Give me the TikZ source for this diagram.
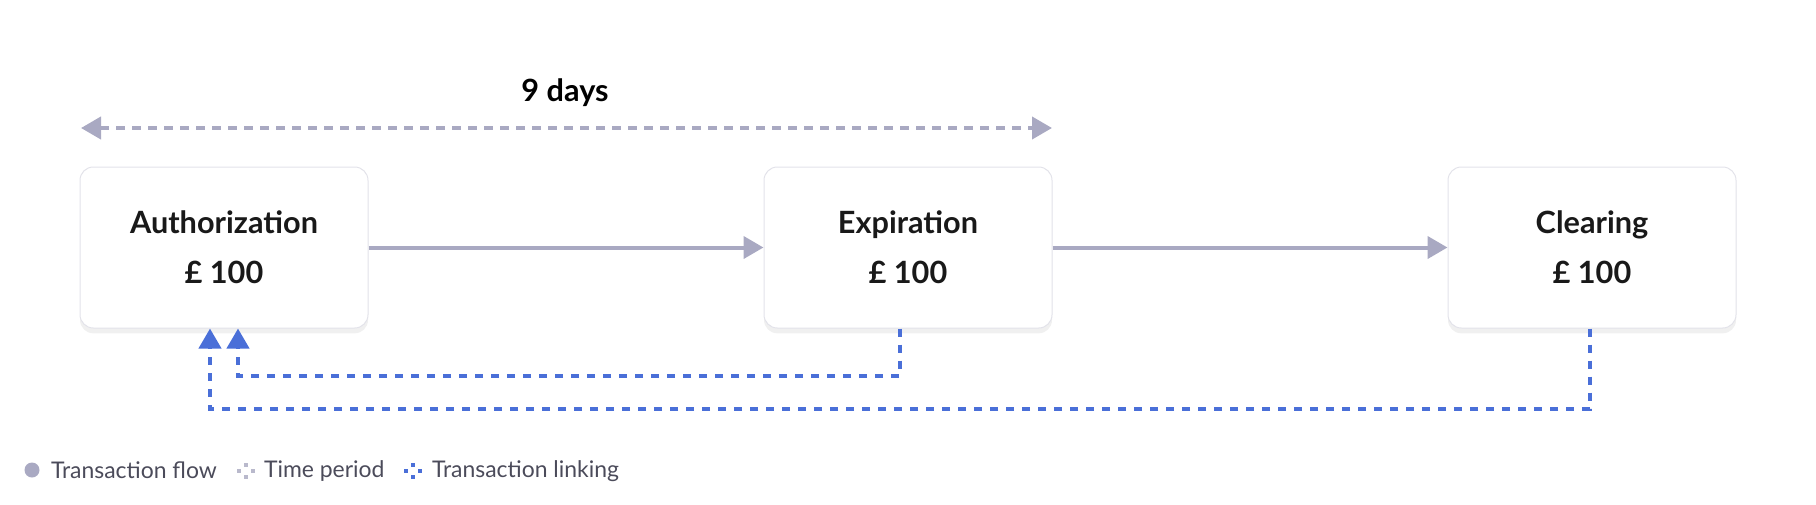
\documentclass[tikz,border=0pt]{standalone}
\usepackage{fontspec}
\setmainfont{Lato}
\usetikzlibrary{arrows.meta,shadows}
\definecolor{flowgray}{HTML}{A9A9C2}
\definecolor{periodgray}{HTML}{B9B9CC}
\definecolor{linkblue}{HTML}{4A6FD8}
\definecolor{boxline}{HTML}{E3E3EA}
\definecolor{legendtext}{HTML}{4B4B5A}

\begin{document}
\begin{tikzpicture}[
	>={Triangle[length=15pt,width=16.5pt]},
	line width=3pt,
	x=0.75pt,y=-0.75pt,
	font=\fontsize{23}{23}\selectfont\bfseries,
	stagebox/.style={draw=boxline, line width=0.75pt, fill=white,
		rounded corners=10pt, minimum width=216pt, minimum height=120.75pt,
		align=center, text=black!90,
		drop shadow={shadow xshift=0pt, shadow yshift=-4pt, opacity=0.06, fill=black}},
	flow/.style={->, flowgray},
	period/.style={<->, flowgray, dash pattern=on 6.75pt off 5.25pt},
	link/.style={->, linkblue, dash pattern=on 6pt off 6pt},
	legend/.style={anchor=west, inner sep=0pt, text=legendtext,
		font=\fontsize{17.2}{17.2}\selectfont\mdseries}
	]
\useasboundingbox (0,0) rectangle (1816,504);

			\node[stagebox] (auth_224_248)    at (224, 247.5)  {Authorization\\[14.5pt]£ 100};
			\node[stagebox] (expir_908_248)   at (908, 247.5)  {Expiration\\[14.5pt]£ 100};
			\node[stagebox] (clear_1592_248)  at (1592, 247.5) {Clearing\\[14.5pt]£ 100};
			\node (days_565_92)   at (565, 92.5) {9 days};
			\coordinate (days_81_128)   at (81, 128);
			\coordinate (days_1052_128) at (1052, 128);

			\draw[period] (days_81_128) -- (days_1052_128);
			\draw[flow] (auth_224_248) -- (expir_908_248);
			\draw[flow] (expir_908_248) -- (clear_1592_248);
			\draw[link] ([xshift=-6pt]expir_908_248.south) -- ++(0,47) -| ([xshift=10.5pt]auth_224_248.south);
			\draw[link] ([xshift=-1.5pt]clear_1592_248.south) -- ++(0,80) -| ([xshift=-10.5pt]auth_224_248.south);

% legend
\fill[flowgray] (32,470) circle (7.5);
\foreach \cx/\col in {246/periodgray, 413/linkblue}
	\foreach \dx/\dy in {-7/0, 7/0, 0/-6, 0/6}
		\fill[\col] (\cx+\dx-2, 471+\dy-2) rectangle ++(4,4);
			\node[legend] (flow_49_470)   at (49, 470)  {Transaction flow};
			\node[legend] (period_262_471) at (262, 471) {Time period};
			\node[legend] (link_430_471)  at (430, 471) {Transaction linking};

\end{tikzpicture}
\end{document}
